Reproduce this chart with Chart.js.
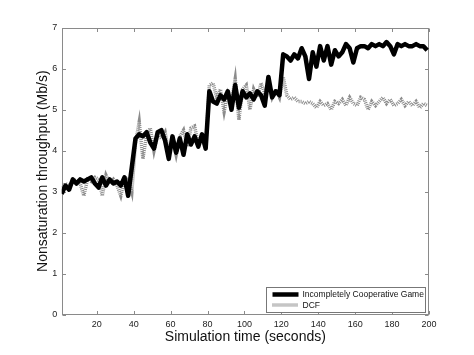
<!DOCTYPE html>
<html><head><meta charset="utf-8">
<script src="https://cdn.jsdelivr.net/npm/chart.js@4/dist/chart.umd.min.js"></script>
<style>html,body{margin:0;padding:0;background:#fff}#wrap{width:474px;height:355px;position:relative}</style>
</head><body><div id="wrap"><canvas id="c" width="474" height="355"></canvas></div>
<script>
const times = [1,3,5,7,9,11,13,15,17,19,21,23,25,27,29,31,33,35,37,39,
  41,43,45,47,49,51,53,55,57,59,61,63,65,67,69,71,73,75,77,79,
  81,83,85,87,89,91,93,95,97,99,101,103,105,107,109,111,113,115,117,119,
  121,123,125,127,129,131,133,135,137,139,141,143,145,147,149,151,153,155,157,159,
  161,163,165,167,169,171,173,175,177,179,181,183,185,187,189,191,193,195,197,199];
const icgValues = [2.95,3.15,3.05,3.3,3.2,3.3,3.25,3.3,3.35,3.2,3.1,3.35,3.15,3.3,3.2,3.25,3.15,3.35,2.9,3.6,
  4.3,4.4,4.35,4.45,4.2,4.05,4.45,4.5,4.25,3.8,4.35,3.95,4.3,3.9,4.4,4.15,4.35,4.1,4.4,4.05,
  5.45,5.2,5.15,5.35,5.25,5.45,5.0,5.6,5.05,5.45,5.3,5.4,5.25,5.45,5.35,5.1,5.8,5.3,5.45,5.35,
  6.35,6.3,6.2,6.35,6.25,6.5,6.3,5.75,6.4,6.05,6.55,6.2,6.55,6.1,6.45,6.3,6.4,6.6,6.5,6.15,
  6.5,6.55,6.55,6.5,6.6,6.55,6.6,6.55,6.65,6.55,6.35,6.6,6.55,6.6,6.55,6.55,6.6,6.55,6.55,6.45];
const dcfValues = [3.1,3.2,3.15,3.25,3.3,3.2,2.9,3.3,3.25,3.35,3.3,2.9,3.4,3.2,3.3,3.15,2.9,3.3,3.35,3.0,
  4.2,4.7,3.8,4.4,4.55,4.0,4.4,4.3,4.45,3.95,4.3,3.9,4.35,4.5,4.1,4.55,4.6,4.15,4.3,4.1,
  5.6,5.65,5.3,5.5,4.95,5.4,5.2,5.75,4.75,5.5,5.6,5.0,5.5,5.3,5.65,5.4,5.7,5.3,5.5,5.3,
  5.8,5.35,5.25,5.3,5.2,5.2,5.15,5.2,5.15,5.05,5.2,5.1,5.15,5.0,5.2,5.15,5.25,5.1,5.3,5.15,
  5.1,5.3,5.25,5.0,5.2,5.1,5.2,5.3,5.15,5.25,5.1,5.15,5.25,5.1,5.2,5.1,5.2,5.05,5.15,5.1];
const xTickValues = [20,40,60,80,100,120,140,160,180,200];
const yTickValues = [0,1,2,3,4,5,6,7];
const seriesNames = ['Incompletely Cooperative Game','DCF'];
const xTitle = 'Simulation time (seconds)';
const yTitle = 'Nonsaturation throughput (Mb/s)';

const FONT = "'Liberation Sans', Arial, sans-serif";
const AXIS_COLOR = '#8a8a8a';

function pts(vals){ return times.map((t,i)=>({x:t,y:vals[i]})); }

const framePlugin = {
  id:'frame',
  beforeDatasetsDraw(chart){
    const {ctx, chartArea:a, scales:{x,y}} = chart;
    ctx.save();
    ctx.strokeStyle = AXIS_COLOR; ctx.lineWidth = 1;
    const L=Math.round(a.left)+0.5, R=Math.round(a.right)-0.5, T=Math.round(a.top)+0.5, B=Math.round(a.bottom)-0.5;
    ctx.strokeRect(L,T,R-L,B-T);
    ctx.beginPath();
    const tl = 3.5;
    xTickValues.forEach(v=>{
      const px = Math.round(x.getPixelForValue(v))+0.5;
      ctx.moveTo(px,B); ctx.lineTo(px,B-tl);
      ctx.moveTo(px,T); ctx.lineTo(px,T+tl);
    });
    yTickValues.forEach(v=>{
      const py = Math.round(y.getPixelForValue(v))+0.5;
      ctx.moveTo(L,py); ctx.lineTo(L+tl,py);
      ctx.moveTo(R,py); ctx.lineTo(R-tl,py);
    });
    ctx.stroke();
    ctx.restore();
  },
  afterDatasetsDraw(chart){
    const {ctx, chartArea:a} = chart;
    const w=159, h=25;
    const left=Math.round(a.right-4-w)+0.5, top=Math.round(a.bottom-3-h)+0.5;
    ctx.save();
    ctx.fillStyle='#fff'; ctx.fillRect(left,top,w,h);
    ctx.strokeStyle='#777'; ctx.lineWidth=1; ctx.strokeRect(left,top,w,h);
    chart.data.datasets.forEach((ds,i)=>{
      const yy = top + 7 + i*10.5;
      ctx.save();
      ctx.strokeStyle = ds.borderColor; ctx.lineWidth = ds.borderWidth;
      ctx.setLineDash(ds.borderDash || []);
      ctx.beginPath(); ctx.moveTo(left+6,yy); ctx.lineTo(left+32,yy); ctx.stroke();
      ctx.restore();
      ctx.fillStyle='#111'; ctx.font = '8.5px '+FONT; ctx.textBaseline='middle'; ctx.textAlign='left';
      ctx.fillText(ds.label, left+36, yy+0.5);
    });
    ctx.restore();
  }
};

new Chart(document.getElementById('c'), {
  type:'line',
  data:{datasets:[
    {label:seriesNames[0], data:pts(icgValues), borderColor:'#000', borderWidth:4.5, pointRadius:0, tension:0, borderJoinStyle:'round', fill:false},
    {label:seriesNames[1], data:pts(dcfValues), borderColor:'#8c8c8c', borderWidth:3.5, borderDash:[1,1], pointRadius:0, tension:0, fill:false}
  ]},
  options:{
    responsive:false, animation:false, devicePixelRatio:1,
    layout:{padding:{left:0,right:45,top:27.7,bottom:0}},
    plugins:{legend:{display:false}, tooltip:{enabled:false}},
    scales:{
      x:{type:'linear', min:1, max:200,
        afterBuildTicks(s){ s.ticks = xTickValues.map(v=>({value:v})); },
        afterFit(s){ s.height = 40.3; },
        grid:{display:false, drawTicks:false}, border:{display:false},
        ticks:{padding:4.5, color:'#222', font:{family:FONT,size:9}, maxRotation:0, autoSkip:false},
        title:{display:true, text:xTitle, color:'#111', font:{family:FONT,size:14}, padding:{top:0,bottom:9.6}}
      },
      y:{type:'linear', min:0, max:7,
        afterBuildTicks(s){ s.ticks = yTickValues.map(v=>({value:v})); },
        afterFit(s){ s.width = 61.7; },
        grid:{display:false, drawTicks:false}, border:{display:false},
        ticks:{padding:4.5, color:'#222', font:{family:FONT,size:9}},
        title:{display:true, text:yTitle, color:'#111', font:{family:FONT,size:14}, padding:{top:34.6,bottom:0}}
      }
    }
  },
  plugins:[framePlugin]
});
</script></body></html>
